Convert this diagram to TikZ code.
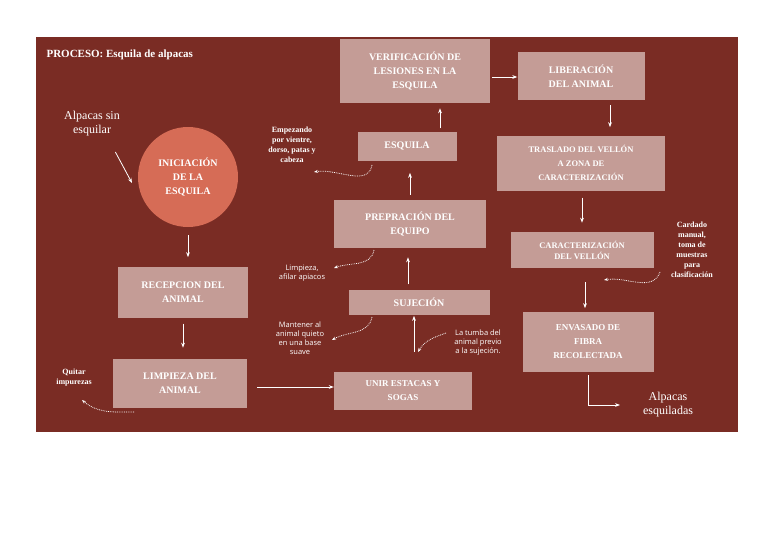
\documentclass[tikz,border=0pt]{standalone}
\usepackage{fontspec}
\setmainfont{Liberation Serif}
\newfontfamily\notefont{Open Sans}
\usetikzlibrary{arrows.meta,positioning}
\definecolor{bgRed}{RGB}{122,44,36}
\definecolor{boxRose}{RGB}{196,156,150}
\definecolor{circSalmon}{RGB}{214,108,86}
\begin{document}
\begin{tikzpicture}[x=1pt,y=-1pt,
    paso/.style={fill=boxRose,text=white,font=\bfseries\fontsize{10}{14}\selectfont,align=center,inner sep=0pt},
    nota/.style={text=white,font=\notefont\fontsize{7.5}{9}\selectfont,align=center},
    flecha/.style={draw=white,thick,-{Stealth[length=5pt]}},
    punteado/.style={draw=white,densely dotted,thick,-{Stealth[length=4pt]}}]
\useasboundingbox (0,0) rectangle (768,543);
\fill[bgRed] (36,37) rectangle (738,432);
\node[text=white,font=\bfseries\fontsize{11}{13}\selectfont,anchor=west] (titulo) at (43,55) {PROCESO: Esquila de alpacas};
% pasos
\node[paso,minimum width=150,minimum height=63] (verif) at (415,71) {VERIFICACIÓN DE\\LESIONES EN LA\\ESQUILA};
\node[paso,minimum width=127,minimum height=48] (liber) at (581,76) {LIBERACIÓN\\DEL ANIMAL};
\node[paso,minimum width=99,minimum height=29] (esquila) at (407,146) {ESQUILA};
\node[paso,minimum width=168,minimum height=55,font=\bfseries\fontsize{8.5}{14}\selectfont] (traslado) at (581,163) {TRASLADO DEL VELLÓN\\A ZONA DE\\CARACTERIZACIÓN};
\node[circle,fill=circSalmon,text=white,minimum size=100,align=center,font=\bfseries\fontsize{10}{14}\selectfont] (inicio) at (188,177) {INICIACIÓN\\DE LA\\ESQUILA};
\node[paso,minimum width=152,minimum height=48] (prepara) at (410,224) {PREPRACIÓN DEL\\EQUIPO};
\node[paso,minimum width=143,minimum height=36,font=\bfseries\fontsize{8.5}{11}\selectfont] (caract) at (582,250) {CARACTERIZACIÓN\\DEL VELLÓN};
\node[paso,minimum width=130,minimum height=51] (recep) at (183,292) {RECEPCION DEL\\ANIMAL};
\node[paso,minimum width=141,minimum height=25] (sujecion) at (419,302) {SUJECIÓN};
\node[paso,minimum width=131,minimum height=60,font=\bfseries\fontsize{9}{14}\selectfont] (envasado) at (588,342) {ENVASADO DE\\FIBRA\\RECOLECTADA};
\node[paso,minimum width=134,minimum height=49] (limpieza) at (180,383) {LIMPIEZA DEL\\ANIMAL};
\node[paso,minimum width=138,minimum height=38,font=\bfseries\fontsize{9}{14}\selectfont] (unir) at (403,391) {UNIR ESTACAS Y\\SOGAS};
% notas
\node[text=white,font=\fontsize{12}{14}\selectfont,align=center] (sinEsq) at (92,124) {Alpacas sin\\esquilar};
\node[text=white,font=\fontsize{12}{14}\selectfont,align=center] (esquiladas) at (668,405) {Alpacas\\esquiladas};
\node[text=white,font=\bfseries\fontsize{8}{10}\selectfont,align=center] (empezando) at (292,145) {Empezando\\por vientre,\\dorso, patas y\\cabeza};
\node[nota] (notaPrep) at (302,273) {Limpieza,\\afilar apiacos};
\node[nota] (notaSuj) at (300,338) {Mantener al\\animal quieto\\en una base\\suave};
\node[nota] (notaTumba) at (478,343) {La tumba del\\animal previo\\a la sujeción.};
\node[text=white,font=\bfseries\fontsize{8}{10}\selectfont,align=center] (notaCar) at (692,250) {Cardado\\manual,\\toma de\\muestras\\para\\clasificación};
\node[text=white,font=\bfseries\fontsize{8}{10}\selectfont,align=center] (quitar) at (74,378) {Quitar\\impurezas};
\coordinate (finEnv) at (620,405);
% flechas
\draw[flecha] (sinEsq.south east) ++(-8,12) -- (132,183);
\draw[flecha] (inicio.south) ++(0,8) -- ++(0,22);
\draw[flecha] (recep.south) ++(0,6) -- ++(0,24);
\draw[flecha] (limpieza.east) ++(10,4) -- (unir.west |- 0,387);
\draw[flecha] (unir.north) ++(11,-20) -- ++(0,-36);
\draw[flecha] (sujecion.north) ++(-11,-5) -- ++(0,-27);
\draw[flecha] (prepara.north) ++(0,-5) -- ++(0,-22);
\draw[flecha] (esquila.north) ++(33,-3) -- ++(0,-20);
\draw[flecha] (verif.east) ++(2,6) -- (liber.west |- 0,77);
\draw[flecha] (liber.south) ++(29,5) -- ++(0,22);
\draw[flecha] (traslado.south) ++(1,7) -- ++(0,25);
\draw[flecha] (caract.south) ++(3,14) -- ++(0,26);
\draw[flecha] (envasado.south) ++(0,3) -- (588,405) -- (finEnv);
% punteados
\draw[punteado] (372,165) to[out=-100,in=10] (314,172);
\draw[punteado] (374,250) to[out=-100,in=20] (334,268);
\draw[punteado] (372,317) to[out=-100,in=30] (332,340);
\draw[punteado] (446,333) to[out=200,in=60] (418,352);
\draw[punteado] (660,272) to[out=-110,in=10] (604,280);
\draw[punteado] (134,412) to[out=180,in=-40] (82,400);
\end{tikzpicture}
\end{document}
